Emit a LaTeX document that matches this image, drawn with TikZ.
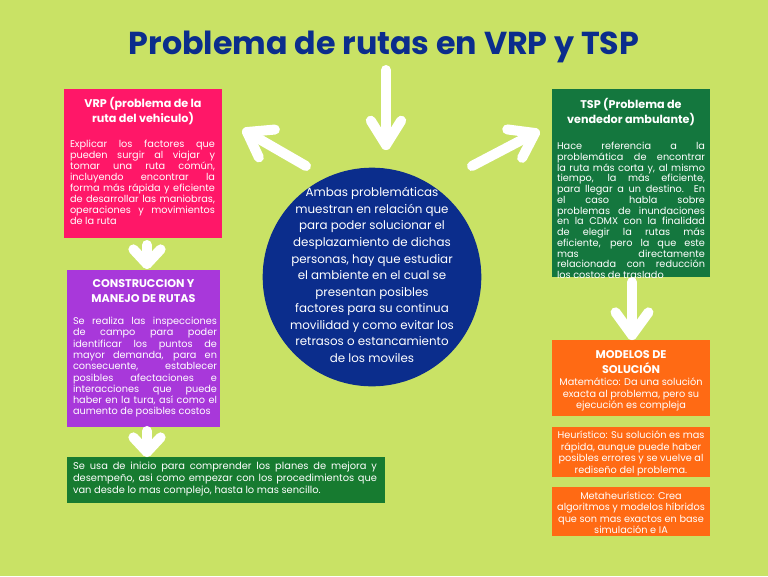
\documentclass[tikz,border=0pt]{standalone}
\usepackage{fontspec}
\setmainfont{Poppins}
\usetikzlibrary{calc}
\definecolor{bg}{HTML}{C9E265}
\definecolor{pinkbox}{HTML}{FF1768}
\definecolor{purplebox}{HTML}{A838DA}
\definecolor{greenA}{HTML}{177B30}
\definecolor{greenB}{HTML}{14773E}
\definecolor{orangebox}{HTML}{FF6A14}
\definecolor{navy}{HTML}{0B2D8C}
\newcommand\whitearrow[4]{% tail, tip, arm length, arm angle
  \draw[warrow] (#1) -- (#2);
  \draw[warrow] ($(#2)!#3!#4:(#1)$) -- (#2) -- ($(#2)!#3!-#4:(#1)$);}
\begin{document}
\begin{tikzpicture}[x=0.75pt,y=-0.75pt,
  box/.style={inner sep=0pt, outer sep=0pt, draw=none},
  head/.style={inner sep=0pt, text=white, align=center, font=\bfseries\fontsize{8.4}{10.8}\selectfont},
  body/.style={inner sep=0pt, text=white, anchor=north, align=justify, font=\fontsize{7.3}{8.25}\selectfont},
  cbody/.style={inner sep=0pt, text=white, align=center, font=\fontsize{7.3}{8.6}\selectfont},
  warrow/.style={draw=white, line width=7.5pt, line cap=round, line join=round}]
\fill[bg] (0,0) rectangle (768,576);
\useasboundingbox (0,0) rectangle (768,576);

% title
\node[text=navy, font=\bfseries\fontsize{23.8}{27}\selectfont, inner sep=0pt] (title) at (384,47) {Problema de rutas en VRP y TSP};

% VRP box
\node[box, fill=pinkbox, minimum width=118.5pt, minimum height=111.75pt] (vrp) at (143,163.5) {};
\node[head] (vrph) at (143,111) {VRP (problema de la\\ruta del vehiculo)};
\node[body, text width=108.75pt] (vrpb) at (142.5,140) {Explicar los factores que\linebreak pueden surgir al viajar y\linebreak tomar una ruta común,\linebreak incluyendo encontrar la\linebreak forma más rápida y eficiente\linebreak de desarrollar las maniobras,\linebreak operaciones y movimientos\linebreak de la ruta};

% purple box
\node[box, fill=purplebox, minimum width=114.75pt, minimum height=117.75pt] (con) at (143.5,348.5) {};
\node[head] (conh) at (143.5,291) {CONSTRUCCION Y\\MANEJO DE RUTAS};
\node[body, text width=108pt, font=\fontsize{7.3}{8.45}\selectfont] (conb) at (145,317) {Se realiza las inspecciones\linebreak de campo para poder\linebreak identificar los puntos de\linebreak mayor demanda, para en\linebreak consecuente, establecer\linebreak posibles afectaciones e\linebreak interacciones que puede\linebreak haber en la tura, así como el\linebreak aumento de posibles costos};

% green bottom box
\node[box, fill=greenA, minimum width=238.5pt, minimum height=34.5pt] (ini) at (226,480) {};
\node[body, text width=228pt, font=\fontsize{7.4}{9}\selectfont] (inib) at (225,462) {Se usa de inicio para comprender los planes de mejora y\linebreak desempeño, asi como empezar con los procedimientos que\linebreak van desde lo mas complejo, hasta lo mas sencillo.};

% TSP box
\node[box, fill=greenB, minimum width=118.5pt, minimum height=141pt] (tsp) at (631,183) {};
\node[head] (tsph) at (631,112) {TSP (Problema de\\vendedor ambulante)};
\begin{scope}
\clip (552,89) rectangle (710,277);
\node[body, text width=111pt, font=\fontsize{7.3}{8.05}\selectfont] (tspb) at (631,142) {Hace referencia a la\linebreak problemática de encontrar\linebreak la ruta más corta y, al mismo\linebreak tiempo, la más eficiente,\linebreak para llegar a un destino. En\linebreak el caso habla sobre\linebreak problemas de inundaciones\linebreak en la CDMX con la finalidad\linebreak de elegir la rutas más\linebreak eficiente, pero la que este\linebreak mas directamente\linebreak relacionada con reducción\linebreak los costos de traslado};
\end{scope}

% orange boxes
\node[box, fill=orangebox, minimum width=118.5pt, minimum height=57pt] (mod) at (631,378) {};
\node[head] (modh) at (631,362) {MODELOS DE\\SOLUCIÓN};
\node[cbody] (modb) at (631,394.5) {Matemático: Da una solución\\exacta al problema, pero su\\ejecución es compleja};
\node[box, fill=orangebox, minimum width=118.5pt, minimum height=37.5pt] (heu) at (631,452) {};
\node[cbody] (heub) at (631,453.5) {Heurístico: Su solución es mas\\rápida, aunque puede haber\\posibles errores y se vuelve al\\rediseño del problema.};
\node[box, fill=orangebox, minimum width=118.5pt, minimum height=36.75pt] (met) at (631,511.5) {};
\node[cbody] (metb) at (631,512.5) {Metaheurístico: Crea\\algoritmos y modelos híbridos\\que son mas exactos en base\\simulación e IA};

% circle
\node[circle, fill=navy, minimum size=164pt, inner sep=0pt] (amb) at (372,277) {};
\node[inner sep=0pt, text=white, align=center, font=\fontsize{8.9}{12.4}\selectfont] (ambt) at (372,275) {Ambas problemáticas\\muestran en relación que\\para poder solucionar el\\desplazamiento de dichas\\personas, hay que estudiar\\el ambiente en el cual se\\presentan posibles\\factores para su continua\\movilidad y como evitar los\\retrasos o estancamiento\\de los moviles};

% arrows
\coordinate (a1t) at (386,70);  \coordinate (a1h) at (386,145);
\coordinate (a2t) at (306,166); \coordinate (a2h) at (247,132);
\coordinate (a3t) at (472,166); \coordinate (a3h) at (535,133);
\coordinate (a4t) at (147,245); \coordinate (a4h) at (147,264);
\coordinate (a5t) at (147,431); \coordinate (a5h) at (147,452);
\coordinate (a6t) at (632,282); \coordinate (a6h) at (632,335);
\whitearrow{a1t}{a1h}{21.5pt}{32}
\whitearrow{a2t}{a2h}{21pt}{35}
\whitearrow{a3t}{a3h}{21pt}{35}
\whitearrow{a4t}{a4h}{15pt}{43}
\whitearrow{a5t}{a5h}{15pt}{43}
\whitearrow{a6t}{a6h}{21pt}{36}
\end{tikzpicture}
\end{document}
